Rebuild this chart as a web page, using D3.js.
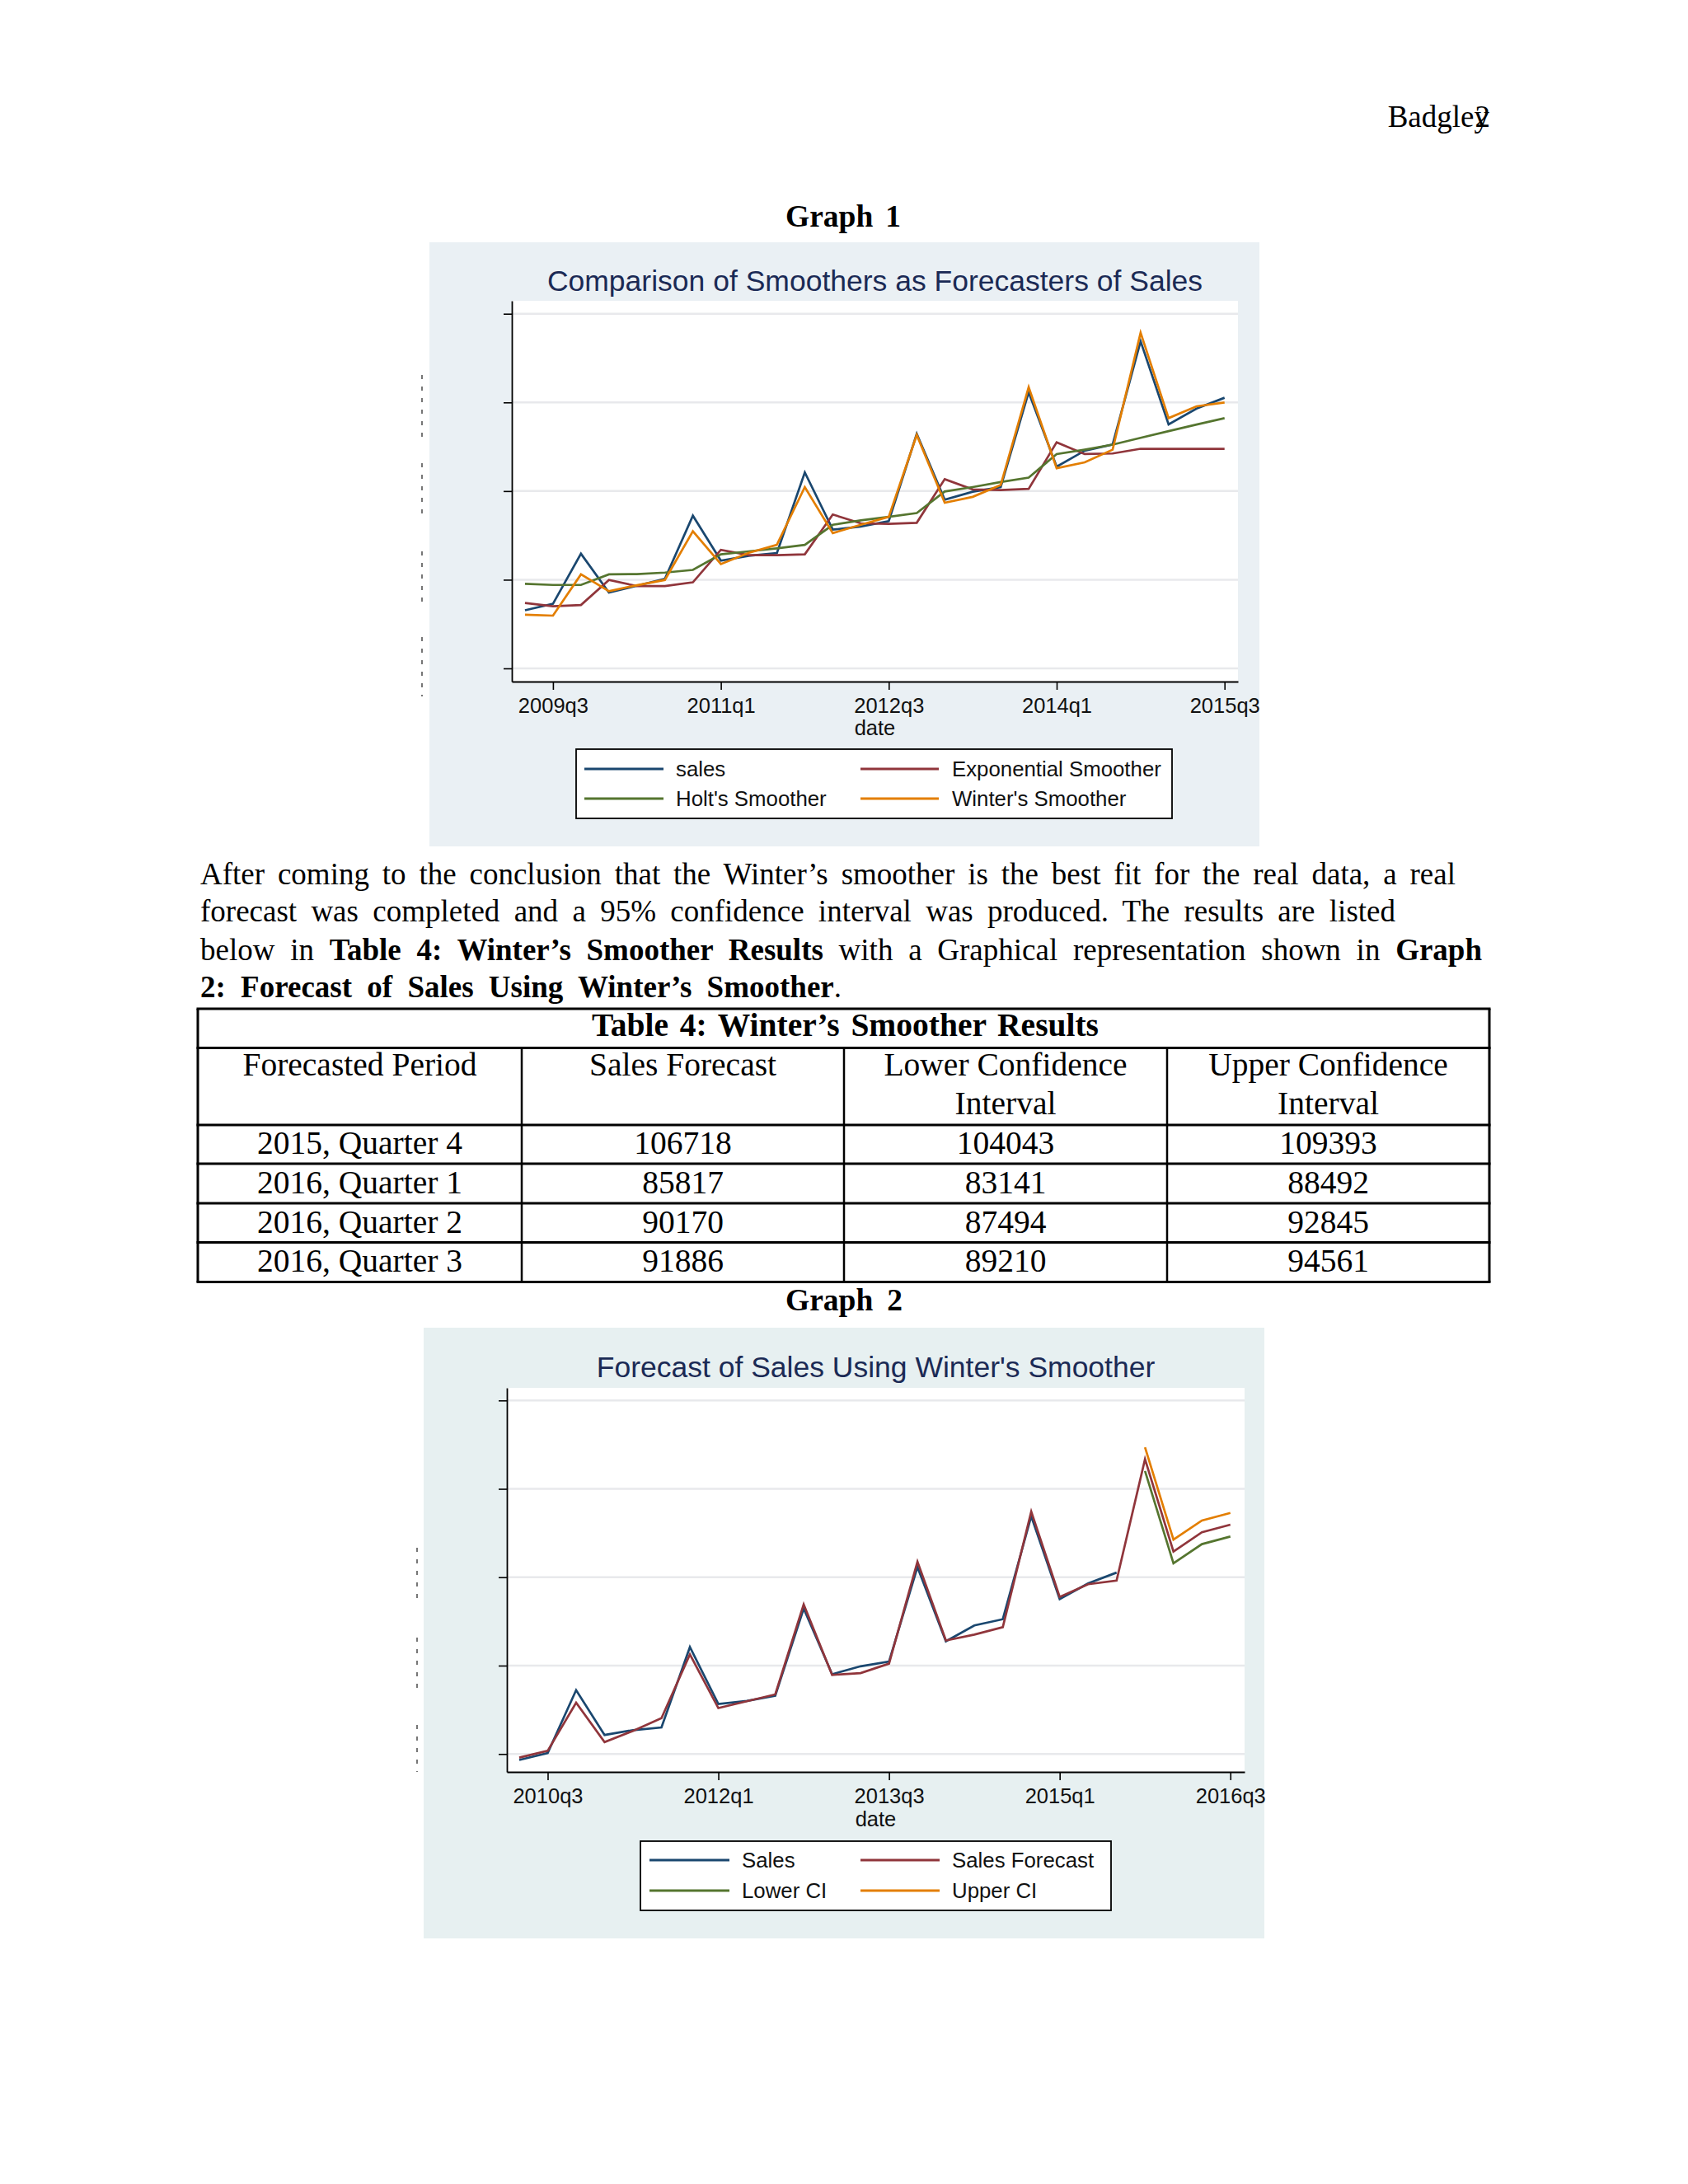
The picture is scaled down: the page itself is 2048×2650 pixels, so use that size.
<!DOCTYPE html>
<html><head><meta charset="utf-8">
<script src="https://cdn.jsdelivr.net/npm/d3@7"></script>
<style>html,body{margin:0;padding:0;background:#fff;} svg{display:block;} text{white-space:pre;}</style>
</head><body>
<svg id="page" width="2048" height="2650"></svg>
<script>
// ---------------- DATA ----------------
const quarters = ["2009q2","2009q3","2009q4","2010q1","2010q2","2010q3","2010q4","2011q1","2011q2","2011q3","2011q4","2012q1","2012q2","2012q3","2012q4","2013q1","2013q2","2013q3","2013q4","2014q1","2014q2","2014q3","2014q4","2015q1","2015q2","2015q3"];
const sales = [33100,34560,45870,37090,38650,40200,54450,44300,45400,46000,64200,51300,52000,53200,72900,58050,59850,60900,82300,65500,69100,70500,93800,75050,78600,81050];
const expSmoother = [34760,34030,34300,39950,38560,38560,39420,46730,45540,45540,45740,54710,52720,52590,52850,62690,60370,60230,60500,71010,68350,68480,69540,69540,69540,69540];
const holtSmoother = [39090,38820,38820,41210,41280,41610,42210,45740,46400,47070,47860,52390,53380,54180,55050,59900,60900,62030,63030,68350,69340,70470,72000,73530,75000,76460];
const winterSmoother = [32100,31900,41210,37420,38750,39950,50920,43540,46070,47860,60900,50520,52390,54180,72670,57370,58700,61360,83440,65150,66480,69340,95740,76460,79120,79980];

const fcQuarters = ["2010q2","2010q3","2010q4","2011q1","2011q2","2011q3","2011q4","2012q1","2012q2","2012q3","2012q4","2013q1","2013q2","2013q3","2013q4","2014q1","2014q2","2014q3","2014q4","2015q1","2015q2","2015q3","2015q4","2016q1","2016q2","2016q3"];
const salesForecast = [39190,40730,51600,42680,45230,48110,62530,50390,51930,53480,73860,57900,58300,60450,83520,65680,67020,68700,94850,75540,78420,79230,106718,85817,90170,91886];
const ciQuarters = ["2015q4","2016q1","2016q2","2016q3"];
const lowerCI = [104043,83141,87494,89210];
const upperCI = [109393,88492,92845,94561];

const xTicks1 = ["2009q3","2011q1","2012q3","2014q1","2015q3"];
const xTicks2 = ["2010q3","2012q1","2013q3","2015q1","2016q3"];
const yTicks1 = [20000,40000,60000,80000,100000];
const yTicks2 = [40000,60000,80000,100000,120000];
const legend1 = ["sales","Exponential Smoother","Holt's Smoother","Winter's Smoother"];
const legend2 = ["Sales","Sales Forecast","Lower CI","Upper CI"];

const tablePeriods = ["2015, Quarter 4","2016, Quarter 1","2016, Quarter 2","2016, Quarter 3"];
const tableForecast = [106718,85817,90170,91886];
const tableLower = [104043,83141,87494,89210];
const tableUpper = [109393,88492,92845,94561];
const tableHeaders = [["Forecasted Period"],["Sales Forecast"],["Lower Confidence","Interval"],["Upper Confidence","Interval"]];

// ---------------- STYLE ----------------
const C = {navy:"#1a476f", maroon:"#90353b", green:"#55752f", orange:"#e37e00"};
const SANS = "'Liberation Sans', Arial, Helvetica, sans-serif";
const SERIF = "'Liberation Serif', 'Times New Roman', Times, serif";
const svg = d3.select("#page");
svg.append("rect").attr("width",2048).attr("height",2650).attr("fill","#ffffff");

function qnum(s){ const m = s.match(/(\d{4})q(\d)/); return (+m[1])*4 + (+m[2]-1); }

function fitWidth(t, target){
  const w = t.node().getComputedTextLength();
  const n = (t.text().match(/ /g)||[]).length;
  if(n>0) t.attr("word-spacing",(target-w)/n);
}

function drawChart(cfg){
  const g = svg.append("g");
  g.append("rect").attr("x",cfg.panel.x).attr("y",cfg.panel.y).attr("width",cfg.panel.w).attr("height",cfg.panel.h).attr("fill",cfg.panel.fill);
  cfg.marks.forEach(m=>{
    g.append("line").attr("x1",m.x).attr("x2",m.x).attr("y1",m.y0).attr("y2",m.y1)
      .attr("stroke","#555").attr("stroke-width",1.6).attr("stroke-dasharray","5,9");
  });
  g.append("text").attr("x",cfg.plot.x+cfg.plot.w/2).attr("y",cfg.titleY).attr("text-anchor","middle")
    .attr("font-family",SANS).attr("font-size",35.5).attr("fill","#1b2a55").text(cfg.title);
  const p = g.append("g").attr("transform",`translate(${cfg.plot.x},${cfg.plot.y})`);
  p.append("rect").attr("width",cfg.plot.w).attr("height",cfg.plot.h).attr("fill","#ffffff");
  const x = d3.scaleLinear().domain(cfg.xDomain).range([0,cfg.plot.w]);
  const y = d3.scaleLinear().domain(cfg.yDomain).range([cfg.plot.h,0]);
  p.append("g").selectAll("line").data(cfg.yTicks).join("line")
    .attr("x1",0).attr("x2",cfg.plot.w).attr("y1",d=>y(d)).attr("y2",d=>y(d))
    .attr("stroke","#e8e9ec").attr("stroke-width",2.5);
  const line = d3.line().x(d=>x(qnum(d.q))).y(d=>y(d.v));
  cfg.series.forEach(s=>{
    const data = s.q.map((q,i)=>({q, v:s.v[i]}));
    p.append("path").datum(data).attr("d",line).attr("fill","none")
      .attr("stroke",s.color).attr("stroke-width",2.7).attr("stroke-linejoin","miter");
  });
  const yAxis = d3.axisLeft(y).tickValues(cfg.yTicks).tickFormat("").tickSize(10).tickSizeOuter(0);
  const ya = p.append("g").call(yAxis);
  const xAxis = d3.axisBottom(x).tickValues(cfg.xTicks.map(qnum)).tickFormat((d,i)=>cfg.xTicks[i]).tickSize(10).tickSizeOuter(0).tickPadding(14);
  const xa = p.append("g").attr("transform",`translate(0,${cfg.plot.h})`).call(xAxis);
  [ya,xa].forEach(a=>{
    a.select(".domain").attr("stroke","#000").attr("stroke-width",1.8);
    a.selectAll(".tick line").attr("stroke","#000").attr("stroke-width",1.6);
  });
  xa.selectAll(".tick text").attr("font-family",SANS).attr("font-size",25.5).attr("fill","#111").attr("dy",null).attr("y",cfg.tickLabelDy);
  g.append("text").attr("x",cfg.plot.x+cfg.plot.w/2).attr("y",cfg.dateY).attr("text-anchor","middle")
    .attr("font-family",SANS).attr("font-size",25.5).attr("fill","#111").text("date");
  const L = cfg.legend;
  g.append("rect").attr("x",L.x).attr("y",L.y).attr("width",L.w).attr("height",L.h)
    .attr("fill","#fff").attr("stroke","#000").attr("stroke-width",1.8);
  cfg.series.forEach((s,i)=>{
    const col = i%2, row = Math.floor(i/2);
    const ly = L.rows[row];
    g.append("line").attr("x1",L.lineX[col][0]).attr("x2",L.lineX[col][1]).attr("y1",ly).attr("y2",ly)
      .attr("stroke",s.color).attr("stroke-width",3);
    g.append("text").attr("x",L.textX[col]).attr("y",ly+9).attr("font-family",SANS).attr("font-size",25.8)
      .attr("fill","#111").text(cfg.legendLabels[i]);
  });
}

// ---------------- HEADER ----------------
svg.append("text").attr("x",1807).attr("y",154).attr("text-anchor","end").attr("font-family",SERIF).attr("font-size",37).attr("fill","#000").text("Badgley");
svg.append("text").attr("x",1808).attr("y",154).attr("text-anchor","end").attr("font-family",SERIF).attr("font-size",37).attr("fill","#000").text("2");
const g1 = svg.append("text").attr("x",953).attr("y",275).attr("font-family",SERIF).attr("font-weight","bold").attr("font-size",37.5).text("Graph 1");
fitWidth(g1, 140);

// ---------------- GRAPH 1 ----------------
drawChart({
  panel:{x:521,y:294,w:1007,h:733,fill:"#eaf0f4"},
  plot:{x:621,y:365,w:881,h:462},
  title:"Comparison of Smoothers as Forecasters of Sales", titleY:353,
  xDomain:[qnum("2009q3")-1.47, qnum("2015q3")+0.48],
  yDomain:[17025,102920],
  xTicks:xTicks1, yTicks:yTicks1, tickLabelDy:38, dateY:892,
  series:[
    {q:quarters,v:sales,color:C.navy},
    {q:quarters,v:expSmoother,color:C.maroon},
    {q:quarters,v:holtSmoother,color:C.green},
    {q:quarters,v:winterSmoother,color:C.orange}
  ],
  legendLabels:legend1,
  legend:{x:699,y:909,w:723,h:84,rows:[933,969],lineX:[[709,805],[1044,1139]],textX:[820,1155]},
  marks:[{x:512,y0:455,y1:537},{x:512,y0:562,y1:630},{x:512,y0:669,y1:730},{x:512,y0:773,y1:845}]
});

// ---------------- PARAGRAPH ----------------
const paraLines = [
  {y:1073, end:1766, parts:[["After coming to the conclusion that the Winter’s smoother is the best fit for the real data, a real",false]]},
  {y:1118, end:1693, parts:[["forecast was completed and a 95% confidence interval was produced. The results are listed",false]]},
  {y:1165, end:1798, parts:[["below in ",false],["Table 4: Winter’s Smoother Results",true],[" with a Graphical representation shown in ",false],["Graph",true]]},
  {y:1210, end:1021, parts:[["2: Forecast of Sales Using Winter’s Smoother",true],[".",false]]}
];
paraLines.forEach(l=>{
  const t = svg.append("text").attr("x",243).attr("y",l.y).attr("font-family",SERIF).attr("font-size",37).attr("fill","#000");
  l.parts.forEach(pt=>{ t.append("tspan").attr("font-weight",pt[1]?"bold":"normal").text(pt[0]); });
  fitWidth(t, l.end-243);
});

// ---------------- TABLE ----------------
const colX = [240,633,1024,1416,1807];
const rowY = [1224,1271.5,1365,1412,1460,1507.5,1555.5];
const TF = 39.5;
const tg = svg.append("g");
rowY.forEach(yy=>tg.append("line").attr("x1",colX[0]-1.5).attr("x2",colX[4]+1.5).attr("y1",yy).attr("y2",yy).attr("stroke","#000").attr("stroke-width",3));
[colX[0],colX[4]].forEach(xx=>tg.append("line").attr("x1",xx).attr("x2",xx).attr("y1",rowY[0]).attr("y2",rowY[6]).attr("stroke","#000").attr("stroke-width",3));
colX.slice(1,4).forEach(xx=>tg.append("line").attr("x1",xx).attr("x2",xx).attr("y1",rowY[1]).attr("y2",rowY[6]).attr("stroke","#000").attr("stroke-width",2.5));
const tt = tg.append("text").attr("x",718).attr("y",1257).attr("font-family",SERIF).attr("font-weight","bold").attr("font-size",TF).text("Table 4: Winter’s Smoother Results");
fitWidth(tt, 615);
tableHeaders.forEach((h,c)=>{
  h.forEach((line,k)=>{
    tg.append("text").attr("x",(colX[c]+colX[c+1])/2).attr("y",1305+k*47).attr("text-anchor","middle").attr("font-family",SERIF).attr("font-size",TF).text(line);
  });
});
const rowBase = [1400,1448,1496,1543];
tablePeriods.forEach((p,r)=>{
  const vals = [p, tableForecast[r], tableLower[r], tableUpper[r]];
  vals.forEach((v,c)=>{
    tg.append("text").attr("x",(colX[c]+colX[c+1])/2).attr("y",rowBase[r]).attr("text-anchor","middle").attr("font-family",SERIF).attr("font-size",TF).text(v);
  });
});

const g2 = svg.append("text").attr("x",953).attr("y",1590).attr("font-family",SERIF).attr("font-weight","bold").attr("font-size",37.5).text("Graph 2");
fitWidth(g2, 142);

// ---------------- GRAPH 2 ----------------
const sales2Q = fcQuarters.filter(q=>quarters.includes(q));
const sales2V = sales2Q.map(q=>sales[quarters.indexOf(q)]);
drawChart({
  panel:{x:514,y:1611,w:1020,h:741,fill:"#e7f0f1"},
  plot:{x:615,y:1684,w:895,h:466},
  title:"Forecast of Sales Using Winter's Smoother", titleY:1671,
  xDomain:[qnum("2010q3")-1.434, qnum("2016q3")+0.5],
  yDomain:[35941,122849],
  xTicks:xTicks2, yTicks:yTicks2, tickLabelDy:38, dateY:2216,
  series:[
    {q:sales2Q,v:sales2V,color:C.navy},
    {q:fcQuarters,v:salesForecast,color:C.maroon},
    {q:ciQuarters,v:lowerCI,color:C.green},
    {q:ciQuarters,v:upperCI,color:C.orange}
  ],
  legendLabels:legend2,
  legend:{x:777,y:2234,w:571,h:84,rows:[2257,2294],lineX:[[788,885],[1044,1140]],textX:[900,1155]},
  marks:[{x:506,y0:1878,y1:1943},{x:506,y0:1987,y1:2048},{x:506,y0:2093,y1:2150}]
});
</script>
</body></html>
